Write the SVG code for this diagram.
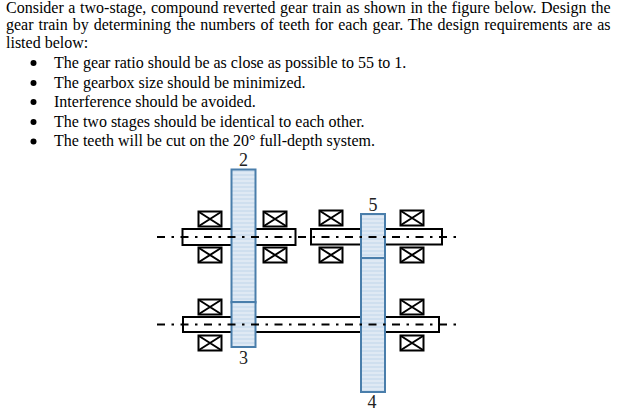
<svg xmlns="http://www.w3.org/2000/svg" width="625" height="412" viewBox="0 0 625 412">
<defs>
<pattern id="stripes" width="4" height="4" patternUnits="userSpaceOnUse">
<rect width="4" height="4" fill="#cfdfef"/><rect width="4" height="2" fill="#dfe9f4"/>
</pattern>
<g id="bearing"><rect x="0.500" y="0.500" width="23" height="15" fill="#fff" stroke="#000" stroke-width="2"/><path d="M1 1L23 15M23 1L1 15" fill="none" stroke="#000" stroke-width="2"/></g>
</defs>
<style>
text{font-family:"Liberation Serif","Times New Roman",serif;font-size:16px;fill:#000}
.shaft{fill:#fff;stroke:#000;stroke-width:2}
.gear{fill:url(#stripes);stroke:#4a7eab;stroke-width:2}
.center{fill:none;stroke:#000;stroke-width:1.800;stroke-dasharray:8 6.500 2.500 6.500}
.label{font-size:18px;text-anchor:middle;fill:#222}
</style>
<g id="text-block">
<text x="6" y="13" word-spacing="0.6">Consider a two-stage, compound reverted gear train as shown in the figure below. Design the</text>
<text x="6" y="30" word-spacing="0.93">gear train by determining the numbers of teeth for each gear. The design requirements are as</text>
<text x="6" y="48">listed below:</text>
</g>
<g id="bullets">
<circle cx="33.500" cy="63" r="3"/><text x="54" y="68">The gear ratio should be as close as possible to 55 to 1.</text>
<circle cx="33.500" cy="83" r="3"/><text x="54" y="88">The gearbox size should be minimized.</text>
<circle cx="33.500" cy="102" r="3"/><text x="54" y="107">Interference should be avoided.</text>
<circle cx="33.500" cy="122" r="3"/><text x="54" y="127">The two stages should be identical to each other.</text>
<circle cx="33.500" cy="141.500" r="3"/><text x="54" y="146">The teeth will be cut on the 20° full-depth system.</text>
</g>
<g id="shaft-top-left"><rect class="shaft" x="182.500" y="229" width="113" height="16"/></g>
<g id="shaft-top-right"><rect class="shaft" x="311" y="229" width="131" height="15.500"/></g>
<g id="shaft-bottom"><rect class="shaft" x="183" y="317" width="256" height="15"/></g>
<g id="bearings">
<use href="#bearing" x="198" y="211"/><use href="#bearing" x="198" y="247"/>
<use href="#bearing" x="263" y="211"/><use href="#bearing" x="263" y="247"/>
<use href="#bearing" x="319" y="210"/><use href="#bearing" x="319" y="247"/>
<use href="#bearing" x="400" y="210"/><use href="#bearing" x="400" y="247"/>
<use href="#bearing" x="198" y="299"/><use href="#bearing" x="198" y="335"/>
<use href="#bearing" x="400" y="299"/><use href="#bearing" x="400" y="335"/>
</g>
<g id="gear-2"><rect class="gear" x="231.500" y="169.500" width="24" height="133"/><text class="label" x="243.500" y="166">2</text></g>
<g id="gear-3"><rect class="gear" x="231.500" y="302" width="24" height="45"/><text class="label" x="243.500" y="364">3</text></g>
<g id="gear-5"><rect class="gear" x="361" y="214" width="24" height="44"/><text class="label" x="373" y="210.500">5</text></g>
<g id="gear-4"><rect class="gear" x="361" y="258" width="24" height="134"/><text class="label" x="372" y="408">4</text></g>
<g id="connectors">
<path class="center" d="M157 237H456"/>
<path class="center" d="M157 324.500H456"/>
</g>
</svg>
